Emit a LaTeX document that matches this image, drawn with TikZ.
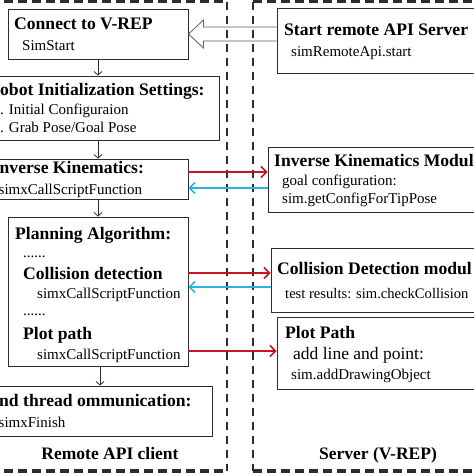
\documentclass[tikz,border=0pt]{standalone}
\usepackage{fontspec}
\setmainfont{Liberation Serif}
\usetikzlibrary{calc,arrows.meta}
\definecolor{ared}{RGB}{196,22,32}
\definecolor{ablue}{RGB}{40,180,230}
\definecolor{boxline}{RGB}{45,45,45}
\definecolor{hollowline}{RGB}{95,95,95}
\begin{document}
\begin{tikzpicture}[x=1pt,y=-1pt,
  box/.style={draw=boxline,line width=0.9pt,inner sep=0pt,rectangle},
  ttl/.style={font=\bfseries\fontsize{17.6}{20}\selectfont,anchor=base west,inner sep=0pt},
  txt/.style={font=\fontsize{15}{18}\selectfont,anchor=base west,inner sep=0pt},
  smalltxt/.style={font=\fontsize{14.6}{18}\selectfont,anchor=base west,inner sep=0pt},
  bigtxt/.style={font=\fontsize{17.5}{20}\selectfont,anchor=base west,inner sep=0pt},
  lbl/.style={font=\bfseries\fontsize{17.5}{20}\selectfont,anchor=base,inner sep=0pt},
  flow/.style={draw=boxline,line width=0.8pt,-{Straight Barb[length=3.5pt,width=8pt]}},
  redarr/.style={draw=ared,line width=1.6pt,-{Straight Barb[length=5.5pt,width=11pt]}},
  bluearr/.style={draw=ablue,line width=1.6pt,-{Straight Barb[length=5.5pt,width=11pt]}},
  hollow/.style={draw=hollowline,line width=0.8pt},
  thickdash/.style={draw=boxline,line width=3.5pt,dash pattern=on 9pt off 5pt},
  thindash/.style={draw=boxline,line width=1.2pt,dash pattern=on 8pt off 6pt}]
\useasboundingbox (0,0) rectangle (474,474);
\clip (0,0) rectangle (474,474);
\fill[white] (0,0) rectangle (474,474);

% frames
\draw[thickdash] (-10,1.5) -- (227,1.5);
\draw[thickdash] (-10,471) -- (227,471);
\draw[thindash] (227,1.5) -- (227,471);
\draw[thickdash] (253,1.5) -- (484,1.5);
\draw[thickdash] (253,471) -- (484,471);
\draw[thindash] (253,1.5) -- (253,471);

% boxes
\node[box,minimum width=180pt,minimum height=50pt] (conn) at (98,34) {};
\node[box,minimum width=224pt,minimum height=64pt] (init) at (107,108) {};
\node[box,minimum width=193pt,minimum height=40pt] (ik) at (91.5,179) {};
\node[box,minimum width=180pt,minimum height=149pt] (plan) at (98,291.5) {};
\node[box,minimum width=217pt,minimum height=50pt] (endt) at (103.5,411) {};
\node[box,minimum width=208pt,minimum height=65pt] (srv) at (381,40.5) {};
\node[box,minimum width=217pt,minimum height=65pt] (ikm) at (376.5,179.5) {};
\node[box,minimum width=214pt,minimum height=64pt] (cdm) at (378,280) {};
\node[box,minimum width=208pt,minimum height=72pt] (ppm) at (381,353) {};

% left texts
\node[ttl] (t1) at (14,29) {Connect to V-REP};
\node[txt] (t2) at (22,50) {SimStart};
\node[ttl] (t3) at (0,95) {obot Initialization Settings:};
\node[txt] (t4) at (0,114) {. Initial Configuraion};
\node[txt] (t5) at (0,132) {. Grab Pose/Goal Pose};
\node[ttl] (t6) at (-0.5,173) {nverse Kinematics:};
\node[txt] (t7) at (-1.5,194) {simxCallScriptFunction};
\node[ttl] (t8) at (15,239) {Planning Algorithm:};
\node[txt] (t9) at (23,257) {......};
\node[ttl] (t10) at (23,279) {Collision detection};
\node[txt] (t11) at (37,298) {simxCallScriptFunction};
\node[txt] (t12) at (23,315) {......};
\node[ttl] (t13) at (23,339) {Plot path};
\node[txt] (t14) at (37,359) {simxCallScriptFunction};
\node[ttl] (t15) at (-1,406) {nd thread ommunication:};
\node[txt] (t16) at (-1.5,427) {simxFinish};
\node[lbl] (t17) at (110,459) {Remote API client};

% right texts
\node[ttl] (r1) at (284,35) {Start remote API Server};
\node[txt] (r2) at (291,56) {simRemoteApi.start};
\node[ttl] (r3) at (274,166) {Inverse Kinematics Modul};
\node[txt] (r4) at (282,185) {goal configuration:};
\node[txt] (r5) at (282,203) {sim.getConfigForTipPose};
\node[ttl] (r6) at (277,274) {Collision Detection modul};
\node[smalltxt] (r7) at (285,298) {test results: sim.checkCollision};
\node[ttl] (r8) at (285,338) {Plot Path};
\node[bigtxt] (r9) at (293,359) {add line and point:};
\node[txt] (r10) at (291,379) {sim.addDrawingObject};
\node[lbl] (r11) at (378,459) {Server (V-REP)};

% flow arrows
\draw[flow] (conn.south) -- (conn.south |- init.north);
\draw[flow] (init.south -| conn.south) -- (ik.north -| conn.south);
\draw[flow] (ik.south -| plan.north) -- (plan.north);
\draw[flow] ([xshift=2pt]plan.south) -- ([xshift=2pt]plan.south |- endt.north);

% hollow arrow
\draw[hollow] (conn.east) -- ++(15,-14) -- ++(0,7)
  -- ($(conn.east -| srv.west)+(0,-7)$)
  ($(conn.east -| srv.west)+(0,7)$) -- ($(conn.east)+(15,7)$)
  -- ($(conn.east)+(15,14)$) -- (conn.east);

% red / blue arrows
\draw[redarr] ([yshift=7pt]ik.east) -- ([yshift=7pt]ik.east -| ikm.west);
\draw[bluearr] ([yshift=-9pt]ik.east -| ikm.west) -- ([yshift=-9pt]ik.east);
\draw[redarr] ([yshift=7pt]cdm.west -| plan.east) -- ([yshift=7pt]cdm.west);
\draw[bluearr] ([yshift=-7pt]cdm.west) -- ([yshift=-7pt]cdm.west -| plan.east);
\draw[redarr] ([yshift=2pt]ppm.west -| plan.east) -- ([yshift=2pt]ppm.west);
\end{tikzpicture}
\end{document}
